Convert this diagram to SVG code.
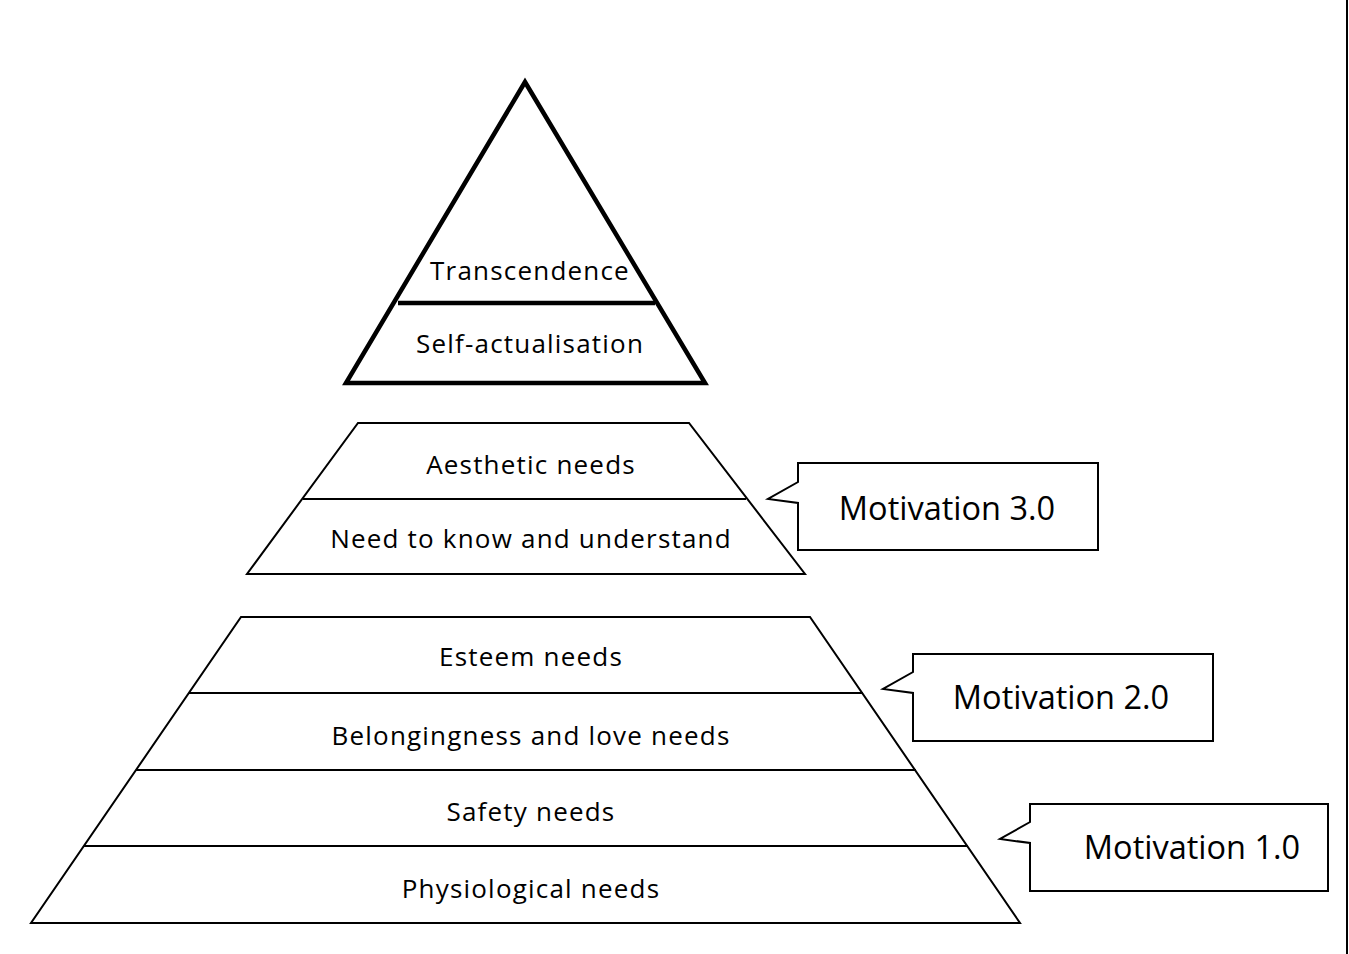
<svg xmlns="http://www.w3.org/2000/svg" width="1349" height="954" viewBox="0 0 1349 954">
<style>
.s{fill:none;stroke:#000;stroke-width:2;stroke-linejoin:miter}
.t{fill:none;stroke:#000;stroke-width:4.5}
.l{font-family:"Open Sans","Liberation Sans",sans-serif;font-size:26px;fill:#000;text-anchor:middle;letter-spacing:1.2px}
.m{font-family:"Open Sans","Liberation Sans",sans-serif;font-size:32.5px;fill:#000;text-anchor:middle}
</style>
<rect width="1349" height="954" fill="#fff"/>
<line x1="1347" y1="0" x2="1347" y2="954" stroke="#000" stroke-width="2"/>
<g id="top">
<polygon class="t" points="525,82 346,383 705,383"/>
<line class="t" x1="398" y1="303" x2="655" y2="303"/>
<text class="l" x="530" y="280">Transcendence</text>
<text class="l" x="530" y="353">Self-actualisation</text>
</g>
<g id="middle">
<polygon class="s" points="358,423 689,423 805,574 247,574"/>
<line class="s" x1="303" y1="499" x2="746" y2="499"/>
<text class="l" x="531" y="474">Aesthetic needs</text>
<text class="l" x="531" y="548">Need to know and understand</text>
</g>
<g id="bottom">
<polygon class="s" points="241,617 810,617 1020,923 31,923"/>
<line class="s" x1="189" y1="693" x2="863" y2="693"/>
<line class="s" x1="136" y1="770" x2="916" y2="770"/>
<line class="s" x1="84" y1="846" x2="968" y2="846"/>
<text class="l" x="531" y="666">Esteem needs</text>
<text class="l" x="531" y="745">Belongingness and love needs</text>
<text class="l" x="531" y="821">Safety needs</text>
<text class="l" x="531" y="898">Physiological needs</text>
</g>
<g id="callouts">
<path class="s" d="M798,482 L798,463 L1098,463 L1098,550 L798,550 L798,503 L768,499 Z"/>
<text class="m" x="947" y="520">Motivation 3.0</text>
<path class="s" d="M913,672 L913,654 L1213,654 L1213,741 L913,741 L913,693 L883,689 Z"/>
<text class="m" x="1061" y="709">Motivation 2.0</text>
<path class="s" d="M1030,822 L1030,804 L1328,804 L1328,891 L1030,891 L1030,843 L1000,839 Z"/>
<text class="m" x="1192" y="859">Motivation 1.0</text>
</g>
</svg>
